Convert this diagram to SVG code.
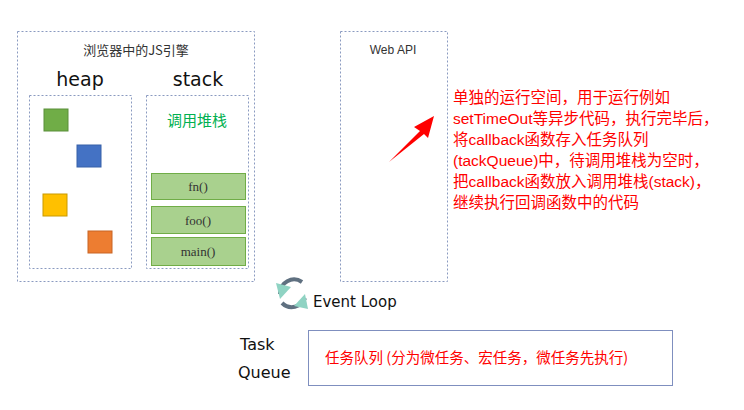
<svg xmlns="http://www.w3.org/2000/svg" width="744" height="410" viewBox="0 0 744 410">
<style>
.dash{fill:#fff;stroke:#8a9ac0;stroke-width:1;stroke-dasharray:2,2}
.hand{font-family:"Comic Sans MS","DejaVu Sans",sans-serif;fill:#111}
.cn{font-family:"Noto Sans CJK SC",sans-serif}
.item{fill:#a9d18e;stroke:#70ad47;stroke-width:1}
.it{font-family:"Liberation Serif",serif;font-size:13px;fill:#333;text-anchor:middle}
.red{font-family:"Liberation Sans","Noto Sans CJK SC",sans-serif;font-size:15.5px;fill:#ff0000}
</style>
<rect width="744" height="410" fill="#fff"/>
<g id="engine">
<rect class="dash" x="17.5" y="31.5" width="237" height="250"/>
<text class="cn" x="136" y="55" font-size="13" fill="#333" text-anchor="middle">浏览器中的JS引擎</text>
</g>
<g id="heap">
<text class="hand" x="80" y="86" font-size="19" text-anchor="middle">heap</text>
<rect class="dash" x="29.5" y="95.5" width="102" height="173"/>
<rect x="44" y="109" width="24" height="22" fill="#70ad47" stroke="#5a8f3a"/>
<rect x="77" y="145" width="24" height="22" fill="#4472c4" stroke="#3760a8"/>
<rect x="43" y="194" width="24" height="22" fill="#ffc000" stroke="#c99a00"/>
<rect x="88" y="231" width="24" height="22" fill="#ed7d31" stroke="#c86525"/>
</g>
<g id="stack">
<text class="hand" x="198" y="86" font-size="19" text-anchor="middle">stack</text>
<rect class="dash" x="146.5" y="95.5" width="102" height="173"/>
<text class="cn" x="197" y="126" font-size="15" fill="#00b050" text-anchor="middle">调用堆栈</text>
<rect class="item" x="151.5" y="173.5" width="94" height="26"/>
<text class="it" x="198" y="191">fn()</text>
<rect class="item" x="151.5" y="206.5" width="94" height="27"/>
<text class="it" x="198" y="225">foo()</text>
<rect class="item" x="151.5" y="237.5" width="94" height="28"/>
<text class="it" x="198" y="256">main()</text>
</g>
<g id="webapi">
<rect class="dash" x="340.5" y="31.5" width="107" height="250"/>
<text x="393" y="54" font-family="Liberation Sans,sans-serif" font-size="12" fill="#333" text-anchor="middle">Web API</text>
</g>
<g id="note">
<text class="red" x="453" y="103">单独的运行空间，用于运行例如</text>
<text class="red" x="453" y="124">setTimeOut等异步代码，执行完毕后，</text>
<text class="red" x="453" y="145">将callback函数存入任务队列</text>
<text class="red" x="453" y="166">(tackQueue)中，待调用堆栈为空时，</text>
<text class="red" x="453" y="187">把callback函数放入调用堆栈(stack)，</text>
<text class="red" x="453" y="208">继续执行回调函数中的代码</text>
</g>
<g id="connectors">
<path d="M389,162 L420,131 L414,127 L434,116 L428,138 L424,134 Z" fill="#ff0000"/>
</g>
<g id="eventloop">
<path d="M302,282 A14,14 0 0 0 280,294" fill="none" stroke="#5f7080" stroke-width="4"/>
<path d="M282,303 A14,14 0 0 0 305,298" fill="none" stroke="#5f7080" stroke-width="4"/>
<polygon points="276,283 291,287 280,299" fill="#8fd3c3"/>
<polygon points="308,309 294,306 305,294" fill="#8fd3c3"/>
<text class="hand" x="313" y="307" font-size="15">Event Loop</text>
</g>
<g id="taskqueue">
<text class="hand" x="240" y="350" font-size="16">Task</text>
<text class="hand" x="238" y="378" font-size="16">Queue</text>
<rect x="308.5" y="330.5" width="364" height="55" fill="#fff" stroke="#7f8fbf"/>
<text class="cn" x="325" y="363" font-size="14.5" fill="#ff0000">任务队列 (分为微任务、宏任务，微任务先执行)</text>
</g>
</svg>
